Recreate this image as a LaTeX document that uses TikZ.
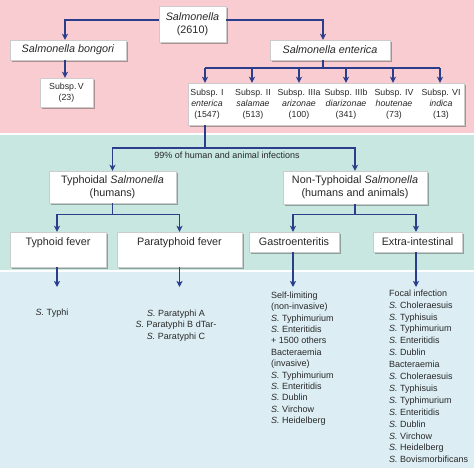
\documentclass[tikz,border=0pt]{standalone}
\usepackage{fontspec}
\setmainfont{Liberation Sans}
\usetikzlibrary{arrows.meta,shadows}
\definecolor{bandpink}{RGB}{248,204,208}
\definecolor{bandteal}{RGB}{199,231,224}
\definecolor{bandblue}{RGB}{220,238,244}
\definecolor{arrowblue}{RGB}{42,62,140}
\definecolor{txt}{RGB}{40,40,40}
\tikzset{
  box/.style={draw=gray!40, line width=0.4pt, fill=white, align=center, text=txt,
    inner sep=3pt, font=\fontsize{10.8}{13}\selectfont,
    drop shadow={shadow xshift=1.6pt, shadow yshift=-1.6pt, fill=black, opacity=0.3}},
  subtxt/.style={align=center, text=txt, inner sep=0pt, font=\fontsize{8.8}{10.8}\selectfont},
  lab/.style={text=txt, inner sep=0pt, font=\fontsize{9}{11}\selectfont},
  listg/.style={align=left, text=txt, inner sep=0pt, font=\fontsize{9}{11.4}\selectfont},
  liste/.style={align=left, text=txt, inner sep=0pt, font=\fontsize{9}{11.9}\selectfont},
  conn/.style={draw=arrowblue, line width=1.3pt},
  arr/.style={conn, -{Stealth[length=6pt,width=6pt,inset=1.5pt]}},
}
\begin{document}
\begin{tikzpicture}[x=1pt,y=-1pt]
\useasboundingbox (0,0) rectangle (474,468);
\fill[bandpink] (0,0) rectangle (474,133);
\fill[bandteal] (0,135.5) rectangle (474,270);
\fill[bandblue] (0,272) rectangle (474,468);

% pink region
\node[box, minimum width=67pt, minimum height=36pt] (root) at (192.5,24) {\textit{Salmonella}\\(2610)};
\node[box, minimum width=116pt, minimum height=20pt] (bongori) at (68,50) {\textit{Salmonella bongori}};
\node[box, minimum width=120pt, minimum height=20pt] (enterica) at (330,50) {\textit{Salmonella enterica}};
\node[box, font=\fontsize{8.8}{10.8}\selectfont, minimum width=53pt, minimum height=29pt] (subV) at (66.5,92.5) {Subsp.\,V\\(23)};
\node[box, minimum width=276pt, minimum height=42pt] (subrow) at (326,104) {};
\node[subtxt] (s1) at (207,104.5) {Subsp. I\\\textit{enterica}\\(1547)};
\node[subtxt] (s2) at (253,104.5) {Subsp. II\\\textit{salamae}\\(513)};
\node[subtxt] (s3) at (299,104.5) {Subsp. IIIa\\\textit{arizonae}\\(100)};
\node[subtxt] (s4) at (346,104.5) {Subsp. IIIb\\\textit{diarizonae}\\(341)};
\node[subtxt] (s5) at (394,104.5) {Subsp. IV\\\textit{houtenae}\\(73)};
\node[subtxt] (s6) at (441,104.5) {Subsp. VI\\\textit{indica}\\(13)};

\draw[arr] ([yshift=4pt]root.west) -| ([xshift=-3pt]bongori.north);
\draw[arr] ([yshift=4pt]root.east) -| ([xshift=-7pt]enterica.north);
\draw[arr] ([xshift=-3pt]bongori.south) -- ([xshift=-3pt]bongori.south |- subV.north);

\coordinate (c1) at (205,68);
\coordinate (c2) at (252,68);
\coordinate (c3) at (299,68);
\coordinate (c4) at (346,68);
\coordinate (c5) at (393,68);
\coordinate (c6) at (440,68);
\draw[conn] ([xshift=-7pt]enterica.south) -- ([xshift=-7pt]enterica.south |- c1);
\draw[conn] (c1) -- (c6);
\foreach \c in {c1,c2,c3,c4,c5,c6}{
  \draw[arr] (\c) -- (\c |- subrow.north);
}

% teal region
\node[box, minimum width=127pt, minimum height=32pt] (typhoidal) at (112.5,187) {Typhoidal \textit{Salmonella}\\(humans)};
\node[box, minimum width=144pt, minimum height=33pt] (nontyph) at (355,187.5) {Non-Typhoidal \textit{Salmonella}\\(humans and animals)};
\coordinate (tbus) at (205,148);
\draw[conn] (c1 |- subrow.south) -- (tbus);
\draw[arr] (tbus) -| (typhoidal.north);
\draw[arr] (tbus) -| (nontyph.north);
\node[lab] (pct) at (227,155.5) {99\% of human and animal infections};

\node[box, minimum width=96pt, text height=10.5pt, text depth=18.5pt] (tfever) at (58,249.5) {Typhoid fever};
\node[box, minimum width=125pt, text height=10.5pt, text depth=18.5pt] (pfever) at (179.5,249.5) {Paratyphoid fever};
\node[box, minimum width=90pt, minimum height=20pt] (gastro) at (294,242) {Gastroenteritis};
\node[box, minimum width=89pt, minimum height=20pt] (extra) at (417.5,242) {Extra-intestinal};

\draw[arr] (typhoidal.south) -- ++(0,11) -| ([xshift=-1pt]tfever.north);
\draw[arr] (typhoidal.south) -- ++(0,11) -| (pfever.north);
\draw[arr] (nontyph.south) -- ++(0,10.5) -| ([xshift=-1pt]gastro.north);
\draw[arr] (nontyph.south) -- ++(0,10.5) -| ([xshift=-1.5pt]extra.north);

% blue region
\coordinate (e1) at (57,287);
\coordinate (e2) at (179.5,287);
\coordinate (e3) at (293,287);
\coordinate (e4) at (416,287);
\draw[arr] ([xshift=-1pt]tfever.south) -- (e1);
\draw[arr] (pfever.south) -- (e2);
\draw[arr] ([xshift=-1pt]gastro.south) -- (e3);
\draw[arr] ([xshift=-1.5pt]extra.south) -- (e4);

\node[lab] (typhi) at (52,313) {\textit{S.} Typhi};
\node[subtxt, font=\fontsize{9}{11.5}\selectfont] (para) at (176,325.5) {\textit{S.} Paratyphi A\\\textit{S.} Paratyphi B dTar-\\\textit{S.} Paratyphi C};
\node[listg, anchor=north west] (glist) at (271,291.5) {Self-limiting\\(non-invasive)\\\textit{S.} Typhimurium\\\textit{S.} Enteritidis\\+ 1500 others\\Bacteraemia\\(invasive)\\\textit{S.} Typhimurium\\\textit{S.} Enteritidis\\\textit{S.} Dublin\\\textit{S.} Virchow\\\textit{S.} Heidelberg};
\node[liste, anchor=north west] (elist) at (389,289.5) {Focal infection\\\textit{S.} Choleraesuis\\\textit{S.} Typhisuis\\\textit{S.} Typhimurium\\\textit{S.} Enteritidis\\\textit{S.} Dublin\\Bacteraemia\\\textit{S.} Choleraesuis\\\textit{S.} Typhisuis\\\textit{S.} Typhimurium\\\textit{S.} Enteritidis\\\textit{S.} Dublin\\\textit{S.} Virchow\\\textit{S.} Heidelberg\\\textit{S.} Bovismorbificans};
\end{tikzpicture}
\end{document}
